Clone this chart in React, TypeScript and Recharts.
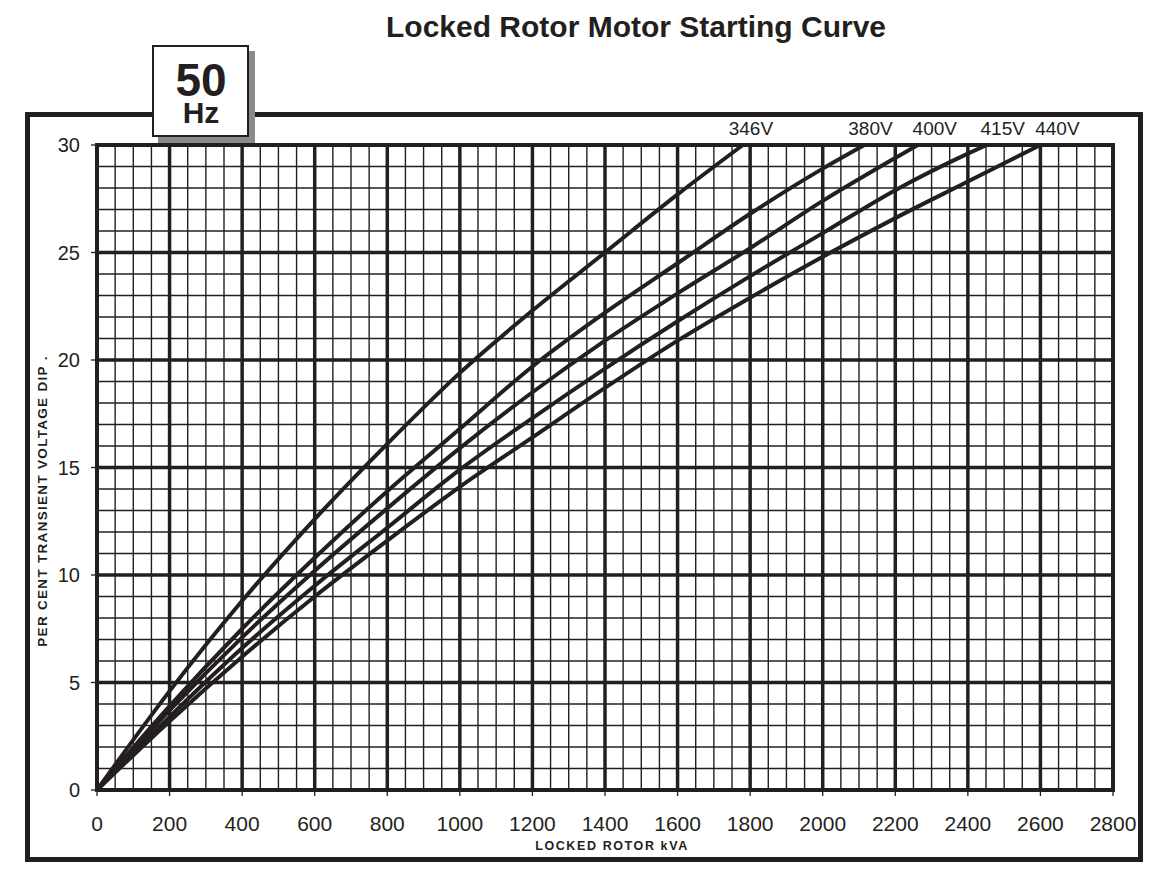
import {
  CartesianGrid,
  LabelList,
  Line,
  LineChart,
  ReferenceArea,
  XAxis,
  YAxis,
} from "recharts";

// locked rotor kVA (x) against per cent transient voltage dip (y)
const kva346 = [0, 200, 400, 600, 800, 1000, 1200, 1400, 1600, 1780];
const dip346 = [0, 4.6, 8.8, 12.6, 16.1, 19.4, 22.3, 25.0, 27.7, 30];

const kva380 = [0, 200, 400, 600, 800, 1000, 1200, 1400, 1600, 1800, 2000, 2115];
const dip380 = [0, 3.9, 7.5, 10.8, 13.9, 16.8, 19.7, 22.2, 24.5, 26.8, 28.9, 30];

const kva400 = [0, 200, 400, 600, 800, 1000, 1200, 1400, 1600, 1800, 2000, 2200, 2262];
const dip400 = [0, 3.7, 7.1, 10.2, 13.1, 15.9, 18.5, 20.9, 23.1, 25.2, 27.4, 29.4, 30];

const kva415 = [0, 200, 400, 600, 800, 1000, 1200, 1400, 1600, 1800, 2000, 2200, 2400, 2452];
const dip415 = [0, 3.4, 6.6, 9.5, 12.2, 14.9, 17.3, 19.6, 21.8, 23.9, 25.9, 27.9, 29.6, 30];

const kva440 = [0, 200, 400, 600, 800, 1000, 1200, 1400, 1600, 1800, 2000, 2200, 2400, 2600];
const dip440 = [0, 3.2, 6.2, 9.0, 11.6, 14.1, 16.4, 18.7, 20.9, 22.9, 24.8, 26.6, 28.3, 30];

const xTicks = [0, 200, 400, 600, 800, 1000, 1200, 1400, 1600, 1800, 2000, 2200, 2400, 2600, 2800];
const yTicks = [0, 5, 10, 15, 20, 25, 30];

// fine paper grid: 50 kVA by 1 %
const minorX = Array.from({ length: 57 }, (_, i) => i * 50);
const minorY = Array.from({ length: 31 }, (_, i) => i);

const INK = "#231f20";
const FONT = "'Liberation Sans', Arial, sans-serif";

const toRows = (kva: number[], dip: number[]) => kva.map((k, i) => ({ kva: k, dip: dip[i] }));

const curves = [
  { name: "346V", rows: toRows(kva346, dip346), dx: 8 },
  { name: "380V", rows: toRows(kva380, dip380), dx: 6 },
  { name: "400V", rows: toRows(kva400, dip400), dx: 17 },
  { name: "415V", rows: toRows(kva415, dip415), dx: 16 },
  { name: "440V", rows: toRows(kva440, dip440), dx: 17 },
];

function endLabel(text: string, last: number, dx: number) {
  return (props: any) => {
    if (props.index !== last) return null;
    return (
      <text
        x={Number(props.x) + dx}
        y={Number(props.y) - 10}
        textAnchor="middle"
        fontSize={19}
        fontFamily={FONT}
        fill={INK}
      >
        {text}
      </text>
    );
  };
}

export default function App() {
  return (
    <div
      style={{
        position: "absolute",
        left: 0,
        top: 0,
        width: 1165,
        height: 872,
        background: "#fff",
        fontFamily: FONT,
        color: INK,
      }}
    >
      <div
        style={{
          position: "absolute",
          left: 0,
          top: 10,
          width: 1272,
          textAlign: "center",
          fontSize: 30,
          lineHeight: "34px",
          fontWeight: 700,
        }}
      >
        Locked Rotor Motor Starting Curve
      </div>

      <div
        style={{
          position: "absolute",
          left: 25,
          top: 112,
          width: 1118,
          height: 750,
          border: `5px solid ${INK}`,
          boxSizing: "border-box",
        }}
      />

      <LineChart
        width={1165}
        height={872}
        margin={{ top: 145, right: 52, bottom: 42, left: 37 }}
        style={{ position: "absolute", left: 0, top: 0 }}
      >
        <CartesianGrid
          verticalValues={minorX}
          horizontalValues={minorY}
          stroke={INK}
          strokeWidth={1.4}
        />
        <CartesianGrid
          verticalValues={xTicks}
          horizontalValues={yTicks}
          stroke={INK}
          strokeWidth={3.5}
        />
        <ReferenceArea
          x1={0}
          x2={2800}
          y1={0}
          y2={30}
          fill="none"
          stroke={INK}
          strokeWidth={4}
        />
        <XAxis
          type="number"
          dataKey="kva"
          domain={[0, 2800]}
          ticks={xTicks}
          interval={0}
          height={40}
          axisLine={false}
          tickSize={6}
          tickMargin={20}
          tickLine={{ stroke: INK, strokeWidth: 1.3 }}
          tick={{ fill: INK, fontSize: 21, fontFamily: FONT }}
        />
        <YAxis
          type="number"
          domain={[0, 30]}
          ticks={yTicks}
          interval={0}
          width={60}
          axisLine={false}
          tickSize={6}
          tickMargin={11}
          tickLine={{ stroke: INK, strokeWidth: 1.3 }}
          tick={{ fill: INK, fontSize: 20, fontFamily: FONT }}
        />
        {curves.map((c) => (
          <Line
            key={c.name}
            data={c.rows}
            dataKey="dip"
            name={c.name}
            type="monotone"
            stroke={INK}
            strokeWidth={4}
            dot={false}
            activeDot={false}
            isAnimationActive={false}
          >
            <LabelList dataKey="dip" content={endLabel(c.name, c.rows.length - 1, c.dx)} />
          </Line>
        ))}
      </LineChart>

      <div
        style={{
          position: "absolute",
          left: 470,
          top: 839,
          width: 284,
          textAlign: "center",
          fontSize: 12.5,
          fontWeight: 700,
          letterSpacing: 1.6,
        }}
      >
        LOCKED ROTOR kVA
      </div>

      <div
        style={{
          position: "absolute",
          left: 42,
          top: 501,
          transform: "translate(-50%, -50%) rotate(-90deg)",
          whiteSpace: "nowrap",
          fontSize: 13.5,
          fontWeight: 700,
          letterSpacing: 1.3,
        }}
      >
        PER CENT TRANSIENT VOLTAGE DIP .
      </div>

      <div
        style={{
          position: "absolute",
          left: 152,
          top: 45,
          width: 97,
          height: 92,
          boxSizing: "border-box",
          border: `2px solid ${INK}`,
          background: "#fff",
          boxShadow: "6px 6px 0 #8a8a8a",
        }}
      >
        <svg width={93} height={88} style={{ display: "block" }}>
          <text textAnchor="middle" fontFamily={FONT} fontWeight={700} fill={INK}>
            <tspan x={47} y={49} fontSize={46}>
              50
            </tspan>
            <tspan x={47} y={76} fontSize={30}>
              Hz
            </tspan>
          </text>
        </svg>
      </div>
    </div>
  );
}
